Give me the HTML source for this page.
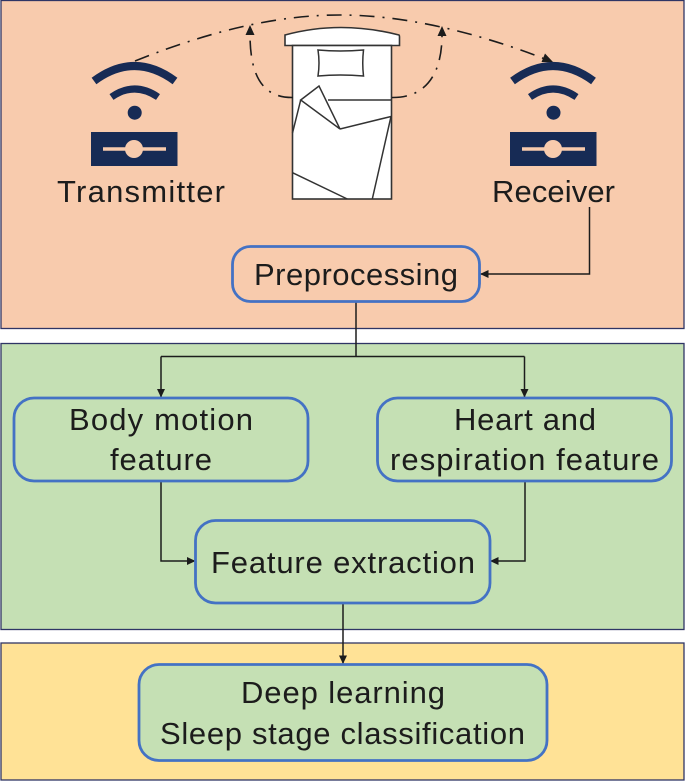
<!DOCTYPE html>
<html><head><meta charset="utf-8"><style>html,body{margin:0;padding:0;background:#fff}svg{display:block}text{font-family:"Liberation Sans",sans-serif;font-size:31px;fill:#1c1c1c}</style></head>
<body>
<svg width="685" height="782" viewBox="0 0 685 782" xmlns="http://www.w3.org/2000/svg">
<defs>
<marker id="a" markerUnits="userSpaceOnUse" markerWidth="10" markerHeight="10" refX="9" refY="5" orient="auto"><path d="M0.500 1 L9 5 L0.500 9 Z" fill="#1c1c1c"/></marker>
</defs>
<rect x="1" y="0.500" width="683" height="328" fill="#F8CBAD" stroke="#2f3565" stroke-width="1.300"/>
<rect x="1" y="343.500" width="683" height="286" fill="#C5E0B4" stroke="#2f3565" stroke-width="1.300"/>
<rect x="1" y="643" width="683" height="137" fill="#FFE296" stroke="#2f3565" stroke-width="1.300"/>

<!-- bed -->
<path d="M285 35 Q340 20 399 35 Q399.500 35 399.500 37 L399.500 45.500 L285 45.500 L285 37 Q285 35 285 35 Z" fill="#fff" stroke="#333" stroke-width="1.600"/>
<rect x="292.500" y="45.500" width="99" height="153.500" fill="#fff" stroke="#333" stroke-width="1.600"/>
<path d="M318 50 Q340 52 363.500 50 Q362 63 363.500 76 Q340 74 318 76 Q320 63 318 50 Z" fill="#fff" stroke="#333" stroke-width="1.500"/>
<path d="M328 100 L391 100" stroke="#333" stroke-width="1.500" fill="none"/>
<path d="M300.700 100 L319 86 L340 129 Z" fill="#fff" stroke="#333" stroke-width="1.500"/>
<path d="M340 129 L391 116.500 L372.300 199 M300.700 100 L292.500 133 M292.500 172.700 L347.300 199" fill="none" stroke="#333" stroke-width="1.500"/>

<!-- dash-dot curves -->
<g fill="none" stroke="#1c1c1c" stroke-width="1.600" stroke-dasharray="15 8 2 8">
<path d="M135 61 C220 27 285 15 340 15 C400 15 470 30 545 59"/>
<path d="M293 97.500 C262 98 250 75 250 34"/>
<path d="M392 97.500 C425 98 442 75 442 35"/>
</g>
<path d="M250 25 L254.500 35 L245.500 35 Z M442 26 L446.500 36 L437.500 36 Z M553 62 L541.500 62 L545 53.500 Z" fill="#1c1c1c"/>

<!-- transmitter -->
<g fill="none" stroke="#172B55" stroke-linecap="butt">
<path d="M94 81 Q134.500 51 175 81" stroke-width="8"/>
<path d="M111.500 97 Q134.500 81 158 97" stroke-width="7"/>
</g>
<circle cx="134.700" cy="112.700" r="7" fill="#172B55"/>
<rect x="91" y="132" width="86.500" height="34" fill="#172B55"/>
<path d="M103 149 H166" stroke="#F8CBAD" stroke-width="3.500"/>
<circle cx="134" cy="149" r="9" fill="#F8CBAD"/>

<!-- receiver -->
<g fill="none" stroke="#172B55" stroke-linecap="butt">
<path d="M512.500 81 Q553 51 593.500 81" stroke-width="8"/>
<path d="M530 97 Q553 81 576.500 97" stroke-width="7"/>
</g>
<circle cx="553.500" cy="112.700" r="7" fill="#172B55"/>
<rect x="510" y="132" width="86.500" height="34" fill="#172B55"/>
<path d="M522 149 H585" stroke="#F8CBAD" stroke-width="3.500"/>
<circle cx="553" cy="149" r="9" fill="#F8CBAD"/>

<!-- connectors -->
<g fill="none" stroke="#1c1c1c" stroke-width="1.500">
<path d="M589.500 207 V274 H480" marker-end="url(#a)"/>
<path d="M356 302 V356.500"/>
<path d="M161 356.500 H524.500"/>
<path d="M161 356.500 V397.500" marker-end="url(#a)"/>
<path d="M524.500 356.500 V397.500" marker-end="url(#a)"/>
<path d="M161 481 V561 H195.500" marker-end="url(#a)"/>
<path d="M525 481 V561 H490" marker-end="url(#a)"/>
<path d="M343 603 V664" marker-end="url(#a)"/>
</g>

<!-- boxes -->
<g stroke="#4472C4" stroke-width="2.800">
<rect x="232.500" y="246.500" width="247" height="55" rx="18" fill="#F8CBAD"/>
<rect x="14" y="398" width="294" height="83" rx="20" fill="#C5E0B4"/>
<rect x="377.500" y="398" width="294" height="83" rx="20" fill="#C5E0B4"/>
<rect x="195.500" y="520.500" width="294.500" height="82.500" rx="20" fill="#C5E0B4"/>
<rect x="139" y="664.500" width="408" height="96" rx="20" fill="#C5E0B4"/>
</g>

<!-- labels -->
<text x="57" y="202" textLength="168" lengthAdjust="spacing">Transmitter</text>
<text x="492" y="202" textLength="123" lengthAdjust="spacing">Receiver</text>
<text x="254" y="285" textLength="204" lengthAdjust="spacing">Preprocessing</text>
<text x="69" y="430" textLength="184" lengthAdjust="spacing">Body motion</text>
<text x="110" y="470" textLength="102" lengthAdjust="spacing">feature</text>
<text x="454" y="430" textLength="142" lengthAdjust="spacing">Heart and</text>
<text x="390" y="470" textLength="269" lengthAdjust="spacing">respiration feature</text>
<text x="211" y="573" textLength="264" lengthAdjust="spacing">Feature extraction</text>
<text x="241" y="703" textLength="204" lengthAdjust="spacing">Deep learning</text>
<text x="160" y="744" textLength="365" lengthAdjust="spacing">Sleep stage classification</text>
</svg>
</body></html>
